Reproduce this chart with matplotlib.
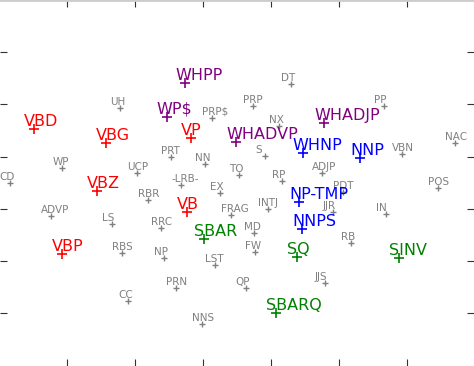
import matplotlib
matplotlib.use('Agg')
import matplotlib.pyplot as plt

# constituent labels (big, coloured) and their 2D positions
big_labels = ['VBD', 'VBG', 'VP', 'VBZ', 'VB', 'VBP',
              'WHPP', 'WP$', 'WHADVP', 'WHADJP',
              'WHNP', 'NNP', 'NP-TMP', 'NNPS',
              'SBAR', 'SQ', 'SINV', 'SBARQ']
big_x = [-0.49, 0.57, 1.82, 0.44, 1.76, -0.07,
         1.74, 1.47, 2.49, 3.78,
         3.47, 4.31, 3.41, 3.46,
         2.01, 3.38, 4.88, 3.07]
big_y = [3.52, 3.26, 3.35, 2.34, 1.94, 1.13,
         4.41, 3.76, 3.28, 3.64,
         3.07, 2.97, 2.13, 1.61,
         1.42, 1.07, 1.05, 0.00]
big_colors = ['red'] * 6 + ['purple'] * 4 + ['blue'] * 4 + ['green'] * 4

# the rest, drawn small and grey
small_labels = ['UH', 'PRP$', 'PRT', 'NN', 'WP', 'UCP', 'CD', 'TO', '-LRB-', 'EX',
                'RBR', 'ADVP', 'FRAG', 'LS', 'RRC', 'RBS', 'NP', 'LST', 'PRN', 'CC',
                'NNS', 'DT', 'PRP', 'PP', 'NX', 'NAC', 'VBN', 'S', 'ADJP', 'RP',
                'PDT', 'POS', 'INTJ', 'JJR', 'IN', 'MD', 'RB', 'FW', 'JJS', 'QP']
small_x = [0.78, 2.13, 1.53, 2.03, -0.07, 1.03, -0.84, 2.53, 1.68, 2.25,
           1.19, -0.24, 2.41, 0.66, 1.38, 0.81, 1.43, 2.18, 1.60, 0.90,
           1.99, 3.29, 2.74, 4.66, 3.12, 5.71, 4.93, 2.91, 3.75, 3.16,
           4.06, 5.46, 2.96, 3.91, 4.69, 2.75, 4.18, 2.76, 3.79, 2.63]
small_y = [3.93, 3.74, 2.99, 2.85, 2.78, 2.68, 2.49, 2.64, 2.45, 2.30,
           2.17, 1.86, 1.88, 1.70, 1.63, 1.15, 1.05, 0.92, 0.48, 0.23,
           -0.21, 4.39, 3.97, 3.97, 3.58, 3.26, 3.05, 3.01, 2.68, 2.53,
           2.32, 2.40, 1.99, 1.94, 1.90, 1.53, 1.34, 1.17, 0.58, 0.48]

fig = plt.figure(figsize=(4.74, 3.66), dpi=100)
ax = fig.add_axes([0, 0, 1, 1])

for lab, x, y in zip(small_labels, small_x, small_y):
    ax.plot(x, y, '+', color='gray', markersize=5, mew=1)
    ax.annotate(lab, (x, y), xytext=(-10, 3), textcoords='offset pixels',
                ha='left', va='baseline', fontsize=7.5, color='gray')

for lab, x, y, c in zip(big_labels, big_x, big_y, big_colors):
    ax.plot(x, y, '+', color=c, markersize=7, mew=1.2)
    ax.annotate(lab, (x, y), xytext=(-10, 3), textcoords='offset pixels',
                ha='left', va='baseline', fontsize=11.5, color=c)

ax.set_xlim(-0.985, 5.985)
ax.set_ylim(-1.015, 6.0)
ax.set_xticks(range(6))
ax.set_yticks(range(6))
ax.tick_params(direction='in', length=5, top=True, right=True,
               labelbottom=False, labelleft=False, color='#333333')
for side in ['left', 'right', 'bottom']:
    ax.spines[side].set_visible(False)
ax.spines['top'].set_color('#cccccc')
ax.spines['top'].set_linewidth(2)

fig.savefig('out.png', dpi=100)
